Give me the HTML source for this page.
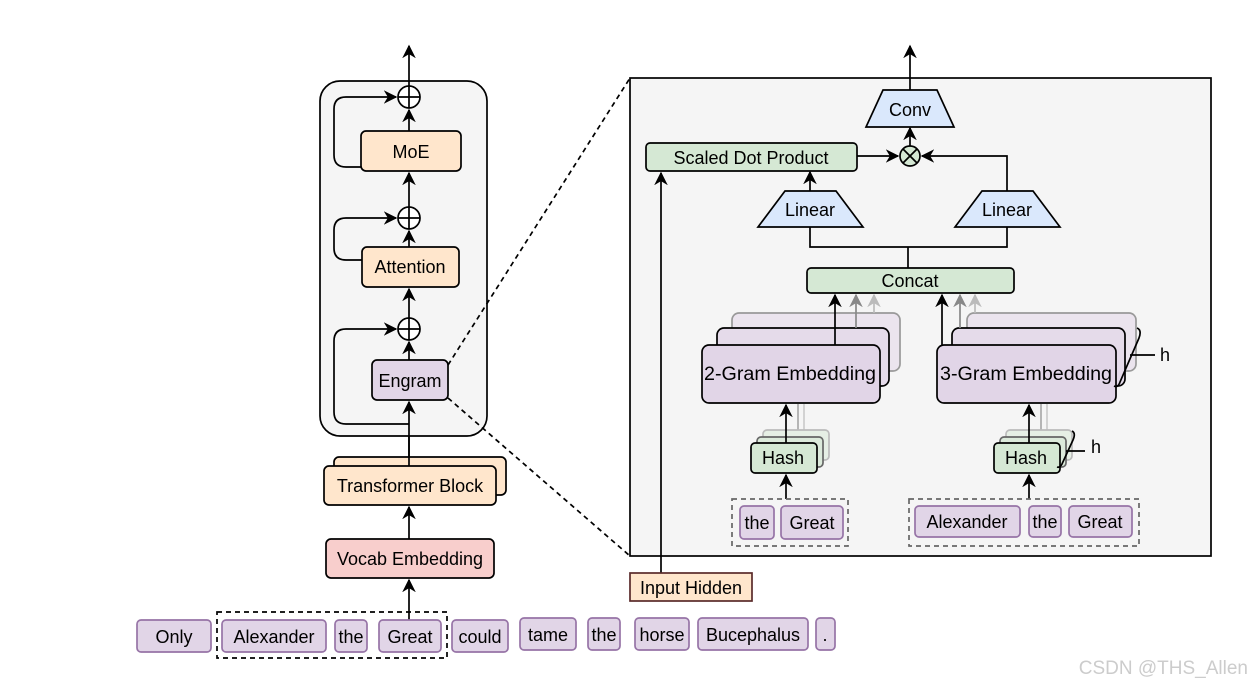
<!DOCTYPE html>
<html><head><meta charset="utf-8"><style>
html,body{margin:0;padding:0;background:#fff;}
svg{display:block;font-family:"Liberation Sans",Arial,sans-serif;}
</style></head><body>
<svg width="1251" height="688" viewBox="0 0 1251 688" xmlns="http://www.w3.org/2000/svg">
<defs>
<marker id="a" viewBox="0 0 10 10" refX="9" refY="5" markerWidth="8" markerHeight="8" orient="auto"><path d="M0,0 L10,5 L0,10 L3,5 z" fill="#000"/></marker>
<marker id="ag" viewBox="0 0 10 10" refX="9" refY="5" markerWidth="8" markerHeight="8" orient="auto"><path d="M0,0 L10,5 L0,10 L3,5 z" fill="#888"/></marker>
<marker id="al" viewBox="0 0 10 10" refX="9" refY="5" markerWidth="8" markerHeight="8" orient="auto"><path d="M0,0 L10,5 L0,10 L3,5 z" fill="#bbb"/></marker>
</defs>
<g stroke="#000" stroke-width="1.7" fill="none">
<rect x="320" y="81" width="167" height="355" rx="20" fill="#f5f5f5"/>
<line x1="409" y1="97" x2="409" y2="46" marker-end="url(#a)"/>
<path d="M409,167 H346 Q334,167 334,155 V109 Q334,97 346,97 H396" marker-end="url(#a)"/>
<path d="M409,260 H346 Q334,260 334,248 V230 Q334,218 346,218 H396" marker-end="url(#a)"/>
<path d="M409,424 H346 Q334,424 334,412 V341 Q334,329 346,329 H396" marker-end="url(#a)"/>
<line x1="409" y1="131" x2="409" y2="110" marker-end="url(#a)"/>
<line x1="409" y1="218" x2="409" y2="173" marker-end="url(#a)"/>
<line x1="409" y1="247" x2="409" y2="231" marker-end="url(#a)"/>
<line x1="409" y1="329" x2="409" y2="289" marker-end="url(#a)"/>
<line x1="409" y1="360" x2="409" y2="342" marker-end="url(#a)"/>
<line x1="409" y1="466" x2="409" y2="402" marker-end="url(#a)"/>
<line x1="409" y1="539" x2="409" y2="507" marker-end="url(#a)"/>
<line x1="409" y1="620" x2="409" y2="580" marker-end="url(#a)"/>
<g fill="#fff"><circle cx="409" cy="97" r="11"/><circle cx="409" cy="218" r="11"/><circle cx="409" cy="329" r="11"/></g>
<path d="M398,97H420M409,86V108M398,218H420M409,207V229M398,329H420M409,318V340"/>
<rect x="361" y="131" width="100" height="40" rx="5" fill="#ffe6cc"/>
<rect x="362" y="247" width="97" height="40" rx="5" fill="#ffe6cc"/>
<rect x="372" y="360" width="76" height="40" rx="5" fill="#e1d5e7"/>
<rect x="334" y="457" width="172" height="38" rx="5" fill="#ffe6cc"/>
<rect x="324" y="466" width="172" height="39" rx="5" fill="#ffe6cc"/>
<line x1="409" y1="466" x2="409" y2="436"/>
<rect x="326" y="539" width="168" height="39" rx="5" fill="#f8cecc"/>
<rect x="217" y="612" width="230" height="46" stroke-dasharray="5,4"/>
<g stroke="#9673a6" fill="#e1d5e7">
<rect x="137" y="620" width="74" height="32" rx="4"/>
<rect x="222" y="620" width="104" height="32" rx="4"/>
<rect x="335" y="620" width="32" height="32" rx="4"/>
<rect x="379" y="620" width="62" height="32" rx="4"/>
<rect x="452" y="620" width="56" height="32" rx="4"/>
<rect x="520" y="618" width="56" height="32" rx="4"/>
<rect x="588" y="618" width="32" height="32" rx="4"/>
<rect x="635" y="618" width="54" height="32" rx="4"/>
<rect x="698" y="618" width="110" height="32" rx="4"/>
<rect x="816" y="618" width="19" height="32" rx="4"/>
</g>
<line x1="448" y1="365" x2="630" y2="78" stroke-dasharray="5,4"/>
<line x1="448" y1="398" x2="630" y2="556" stroke-dasharray="5,4"/>
<rect x="630" y="78" width="581" height="478" fill="#f5f5f5"/>
<line x1="910" y1="90" x2="910" y2="46" marker-end="url(#a)"/>
<path d="M883,90 H937 L954,127 H866 Z" fill="#dae8fc"/>
<line x1="910" y1="146" x2="910" y2="128" marker-end="url(#a)"/>
<line x1="857" y1="156" x2="898" y2="156" marker-end="url(#a)"/>
<path d="M1007,191 V156 H922" marker-end="url(#a)"/>
<circle cx="910" cy="156" r="10" fill="#d5e8d4"/>
<path d="M903,149 L917,163 M917,149 L903,163"/>
<rect x="646" y="143" width="211" height="28" rx="4" fill="#d5e8d4"/>
<line x1="810" y1="191" x2="810" y2="172" marker-end="url(#a)"/>
<path d="M785,191 H836 L863,227 H758 Z" fill="#dae8fc"/>
<path d="M982,191 H1033 L1060,227 H955 Z" fill="#dae8fc"/>
<path d="M810,227 V247 H1007 V227 M908,247 V268"/>
<rect x="807" y="268" width="207" height="25" rx="4" fill="#d5e8d4"/>
<line x1="661" y1="573" x2="661" y2="173" marker-end="url(#a)"/>
<rect x="732" y="313" width="168" height="58" rx="7" fill="#ebe4ee" stroke="#999"/>
<rect x="717" y="328" width="172" height="58" rx="7" fill="#e5dbea"/>
<rect x="702" y="345" width="178" height="58" rx="7" fill="#e1d5e7"/>
<line x1="835" y1="345" x2="835" y2="295" marker-end="url(#a)"/>
<line x1="856" y1="328" x2="856" y2="295" stroke="#888" marker-end="url(#ag)"/>
<line x1="874" y1="313" x2="874" y2="295" stroke="#bbb" marker-end="url(#al)"/>
<rect x="967" y="313" width="169" height="58" rx="7" fill="#ebe4ee" stroke="#999"/>
<rect x="952" y="328" width="173" height="58" rx="7" fill="#e5dbea"/>
<rect x="937" y="345" width="179" height="58" rx="7" fill="#e1d5e7"/>
<line x1="942" y1="345" x2="942" y2="295" marker-end="url(#a)"/>
<line x1="960" y1="328" x2="960" y2="295" stroke="#888" marker-end="url(#ag)"/>
<line x1="975" y1="313" x2="975" y2="295" stroke="#bbb" marker-end="url(#al)"/>
<path d="M1137,328 Q1142,330 1139,338 L1120,382 Q1118,388 1114,386 M1130,355 H1155"/>
<line x1="798" y1="430" x2="798" y2="404" stroke="#aaa"/>
<line x1="804" y1="430" x2="804" y2="404" stroke="#ccc"/>
<rect x="763" y="430" width="66" height="30" rx="4" fill="#e6efe5" stroke="#bbb"/>
<rect x="757" y="437" width="66" height="30" rx="4" fill="#dceadb" stroke="#666"/>
<rect x="751" y="443" width="66" height="30" rx="4" fill="#d5e8d4"/>
<line x1="786" y1="443" x2="786" y2="405" marker-end="url(#a)"/>
<line x1="786" y1="499" x2="786" y2="475" marker-end="url(#a)"/>
<line x1="1041" y1="430" x2="1041" y2="404" stroke="#aaa"/>
<line x1="1047" y1="430" x2="1047" y2="404" stroke="#ccc"/>
<rect x="1006" y="430" width="66" height="30" rx="4" fill="#e6efe5" stroke="#bbb"/>
<rect x="1000" y="437" width="66" height="30" rx="4" fill="#dceadb" stroke="#666"/>
<rect x="994" y="443" width="66" height="30" rx="4" fill="#d5e8d4"/>
<line x1="1029" y1="443" x2="1029" y2="405" marker-end="url(#a)"/>
<line x1="1029" y1="499" x2="1029" y2="475" marker-end="url(#a)"/>
<path d="M1072,431 Q1076,433 1073,440 L1062,464 Q1060,468 1057,467 M1066,451 H1085"/>
<rect x="732" y="499" width="116" height="47" stroke="#666" stroke-dasharray="5,4"/>
<rect x="909" y="499" width="230" height="47" stroke="#666" stroke-dasharray="5,4"/>
<g stroke="#9673a6" fill="#e1d5e7">
<rect x="740" y="506" width="34" height="33" rx="4"/>
<rect x="781" y="506" width="62" height="33" rx="4"/>
<rect x="915" y="506" width="105" height="31" rx="4"/>
<rect x="1029" y="506" width="32" height="31" rx="4"/>
<rect x="1069" y="506" width="63" height="31" rx="4"/>
</g>
<rect x="630" y="573" width="122" height="28" fill="#ffe6cc" stroke="#5a2a2a"/>
</g>
<g font-size="18" fill="#000" text-anchor="middle">
<text x="411" y="158">MoE</text>
<text x="410" y="273">Attention</text>
<text x="410" y="387">Engram</text>
<text x="410" y="492">Transformer Block</text>
<text x="410" y="565">Vocab Embedding</text>
<text x="174" y="643">Only</text>
<text x="274" y="643">Alexander</text>
<text x="351" y="643">the</text>
<text x="410" y="643">Great</text>
<text x="480" y="643">could</text>
<text x="548" y="641">tame</text>
<text x="604" y="641">the</text>
<text x="662" y="641">horse</text>
<text x="753" y="641">Bucephalus</text>
<text x="825" y="641">.</text>
<text x="910" y="116">Conv</text>
<text x="751" y="164">Scaled Dot Product</text>
<text x="810" y="216">Linear</text>
<text x="1007" y="216">Linear</text>
<text x="910" y="287">Concat</text>
<text x="790" y="380" font-size="19" textLength="172" lengthAdjust="spacingAndGlyphs">2-Gram Embedding</text>
<text x="1026" y="380" font-size="19" textLength="172" lengthAdjust="spacingAndGlyphs">3-Gram Embedding</text>
<text x="783" y="464">Hash</text>
<text x="1026" y="464">Hash</text>
<text x="757" y="529">the</text>
<text x="812" y="529">Great</text>
<text x="967" y="528">Alexander</text>
<text x="1045" y="528">the</text>
<text x="1100" y="528">Great</text>
<text x="691" y="594">Input Hidden</text>
<text x="1165" y="361">h</text>
<text x="1096" y="453">h</text>
</g>
<text x="1248" y="674" font-size="19" fill="#ccc" text-anchor="end">CSDN @THS_Allen</text>
</svg>
</body></html>
